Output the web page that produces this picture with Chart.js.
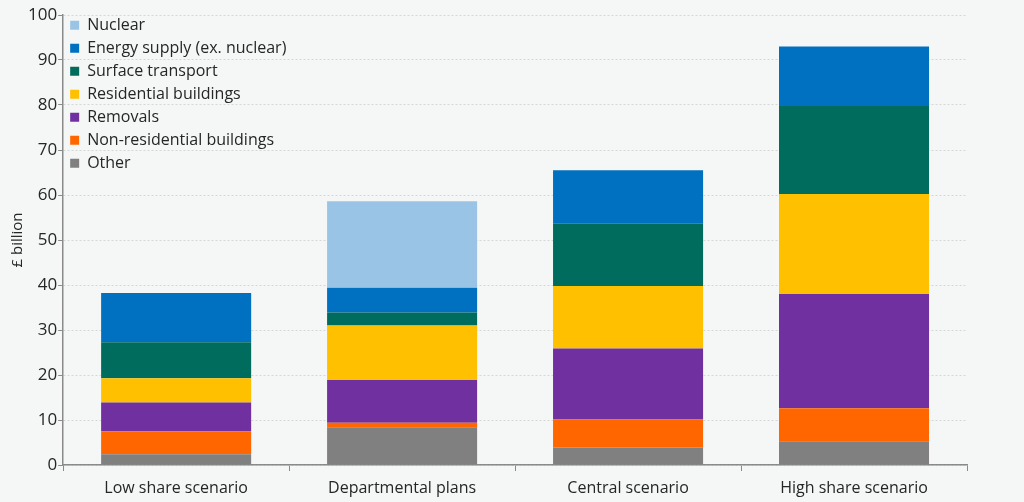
<!DOCTYPE html>
<html>
<head>
<meta charset="utf-8">
<script src="https://cdn.jsdelivr.net/npm/chart.js@4.4.1/dist/chart.umd.min.js"></script>
<style>
  html, body { margin: 0; padding: 0; background: #f4f7f6; }
  #wrap { width: 1024px; height: 502px; }
</style>
</head>
<body>
<div id="wrap"><canvas id="myChart" width="1024" height="502"></canvas></div>
<script>
// scenarios along the x axis
const categories = ['Low share scenario', 'Departmental plans', 'Central scenario', 'High share scenario'];

// £ billion, stacked from the bottom up
const other = [2.4, 8.4, 3.9, 5.3];
const nonResidential = [5.1, 1.0, 6.2, 7.3];
const removals = [6.4, 9.5, 15.8, 25.4];
const residential = [5.4, 12.1, 13.9, 22.2];
const surfaceTransport = [8.0, 2.9, 13.8, 19.6];
const energySupply = [10.9, 5.5, 11.9, 13.2];
const nuclear = [0, 19.2, 0, 0];

const yTicks = [0, 10, 20, 30, 40, 50, 60, 70, 80, 90, 100];

const fontFamily = '"Open Sans", Lato, sans-serif';
const textColor = '#262626';
const axisColor = '#8a8a8a';

function makeSet(label, data, color) {
  return {
    label: label,
    data: data,
    backgroundColor: color,
    borderWidth: 0,
    categoryPercentage: 1,
    barPercentage: 0.664
  };
}

function initChart() {
  const ctx = document.getElementById('myChart');

  new Chart(ctx, {
    type: 'bar',
    data: {
      labels: categories,
      datasets: [
        makeSet('Other', other, '#808080'),
        makeSet('Non-residential buildings', nonResidential, '#ff6600'),
        makeSet('Removals', removals, '#7030a0'),
        makeSet('Residential buildings', residential, '#ffc000'),
        makeSet('Surface transport', surfaceTransport, '#006c5e'),
        makeSet('Energy supply (ex. nuclear)', energySupply, '#0070c0'),
        makeSet('Nuclear', nuclear, '#9ac4e6')
      ]
    },
    options: {
      responsive: false,
      animation: false,
      layout: {
        padding: { left: 5, right: 57, top: 15, bottom: 0 }
      },
      plugins: {
        tooltip: { enabled: false },
        legend: {
          position: 'chartArea',
          align: 'start',
          reverse: true,
          title: { display: true, text: ' ', padding: 4.5, font: { size: 1 } },
          labels: {
            boxWidth: 9,
            boxHeight: 9,
            padding: 7,
            color: textColor,
            font: { family: fontFamily, size: 16 }
          }
        }
      },
      scales: {
        x: {
          stacked: true,
          offset: true,
          afterFit: (scale) => { scale.height = 37; },
          grid: {
            offset: true,
            drawOnChartArea: false,
            drawTicks: true,
            tickLength: 6,
            tickColor: axisColor
          },
          border: { display: true, color: axisColor, width: 1.5 },
          ticks: {
            color: textColor,
            padding: 8,
            font: { family: fontFamily, size: 16 }
          }
        },
        y: {
          stacked: true,
          min: 0,
          max: 100,
          afterBuildTicks: (axis) => { axis.ticks = yTicks.map(v => ({ value: v })); },
          grid: {
            color: '#d6d6d6',
            tickColor: axisColor,
            tickLength: 5
          },
          border: { display: true, color: axisColor, width: 1.5, dash: [2, 2] },
          ticks: {
            color: textColor,
            padding: 1,
            font: { family: fontFamily, size: 17 }
          },
          title: {
            display: true,
            text: '£ billion',
            color: textColor,
            padding: { top: 4, bottom: 0 },
            font: { family: fontFamily, size: 15 }
          }
        }
      }
    }
  });

  return Chart
}

document.addEventListener('DOMContentLoaded', () => initChart());
</script>
</body>
</html>
